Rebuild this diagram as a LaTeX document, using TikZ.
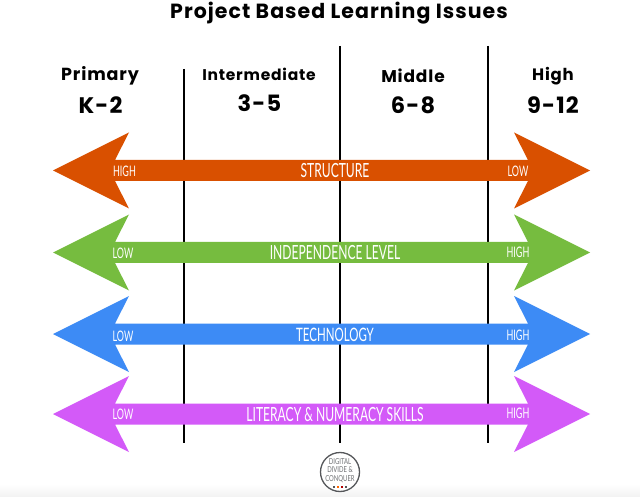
\documentclass[tikz,border=0pt]{standalone}
\usepackage{fontspec}
\setmainfont{Poppins}
\newfontfamily\headfont[LetterSpace=5]{Poppins}
\newfontfamily\labfont[FakeStretch=0.62]{Lato}
\newfontfamily\logofont[FakeStretch=0.72]{Lato}
\definecolor{cOrange}{HTML}{D95000}
\definecolor{cGreen}{HTML}{76BC3F}
\definecolor{cBlue}{HTML}{3D8BF5}
\definecolor{cPurple}{HTML}{D35AF8}
\definecolor{cLogo}{HTML}{55575A}
\tikzset{
  x=1pt,y=-1pt,
  divider/.style={draw=black,line width=2pt},
  title/.style={font=\headfont\bfseries\fontsize{20.5}{22}\selectfont,text=black,inner sep=0pt},
  level/.style={font=\headfont\bfseries\fontsize{#1}{18}\selectfont,text=black,inner sep=0pt},
  grade/.style={font=\headfont\bfseries\fontsize{22.5}{24}\selectfont,text=black,inner sep=0pt},
  bandlabel/.style={font=\labfont\fontsize{#1}{21}\selectfont,text=white,inner sep=0pt},
  bandlabel/.default=19.5,
  endlabel/.style={font=\labfont\fontsize{14.5}{16}\selectfont,text=white,inner sep=0pt},
  logotext/.style={font=\logofont\fontsize{8.2}{8.2}\selectfont,text=cLogo!85,inner sep=0pt,align=center},
}
\newcommand{\bandarrow}[2]{%
  \fill[#2] (53,#1) -- (129,#1-38) -- (115,#1-10.5) -- (528,#1-10.5) -- (514,#1-38)
    -- (590,#1) -- (514,#1+38) -- (528,#1+10.5) -- (115,#1+10.5) -- (129,#1+38) -- cycle;}
\begin{document}
\begin{tikzpicture}
\useasboundingbox (0,0) rectangle (640,497);
\fill[white] (0,0) rectangle (640,497);
\shade[top color=white,bottom color=black!5] (0,484) rectangle (640,497);

\coordinate (d1t) at (184,69);  \coordinate (d1b) at (184,443);
\coordinate (d2t) at (339.5,46); \coordinate (d2b) at (339.5,443);
\coordinate (d3t) at (488,46);  \coordinate (d3b) at (488,443);
\draw[divider] (d1t) -- (d1b);
\draw[divider] (d2t) -- (d2b);
\draw[divider] (d3t) -- (d3b);

\node[title] (ttl) at (339,13) {Project Based Learning Issues};
\node[level=17.5] (l1) at (100,76) {Primary};
\node[level=15.5] (l2) at (259,74) {Intermediate};
\node[level=17] (l3) at (413,75.5) {Middle};
\node[level=16.5] (l4) at (553,76) {High};
\node[grade] (g1) at (100.5,105) {K-2};
\node[grade] (g2) at (259.5,103) {3-5};
\node[grade] (g3) at (413,105) {6-8};
\node[grade] (g4) at (553,105) {9-12};

\bandarrow{170.5}{cOrange}
\bandarrow{252.5}{cGreen}
\bandarrow{334}{cBlue}
\bandarrow{414}{cPurple}

\node[bandlabel] (b1) at (335,171) {STRUCTURE};
\node[bandlabel] (b2) at (335,252.5) {INDEPENDENCE LEVEL};
\node[bandlabel=18.5] (b3) at (335,335) {TECHNOLOGY};
\node[bandlabel] (b4) at (335,415) {LITERACY \& NUMERACY SKILLS};

\node[endlabel] (e1l) at (124.5,171.5) {HIGH};
\node[endlabel] (e1r) at (518,171) {LOW};
\node[endlabel] (e2l) at (123,253) {LOW};
\node[endlabel] (e2r) at (518,252) {HIGH};
\node[endlabel] (e3l) at (123,336) {LOW};
\node[endlabel] (e3r) at (518,335) {HIGH};
\node[endlabel] (e4l) at (123,414.5) {LOW};
\node[endlabel] (e4r) at (518,413) {HIGH};

\node[circle,draw=cLogo,line width=1.3pt,fill=white,minimum size=39pt,inner sep=0pt] (logo) at (340,472) {};
\node[logotext] (logot) at (340,470.5) {DIGITAL\\DIVIDE \&\\CONQUER};
\fill[cLogo] (333,486) rectangle (335,488);
\fill[orange!80!red] (337,486) rectangle (339,488);
\fill[red!70!black] (341,486) rectangle (343,488);
\fill[cLogo] (345,486) rectangle (347,488);
\end{tikzpicture}
\end{document}
